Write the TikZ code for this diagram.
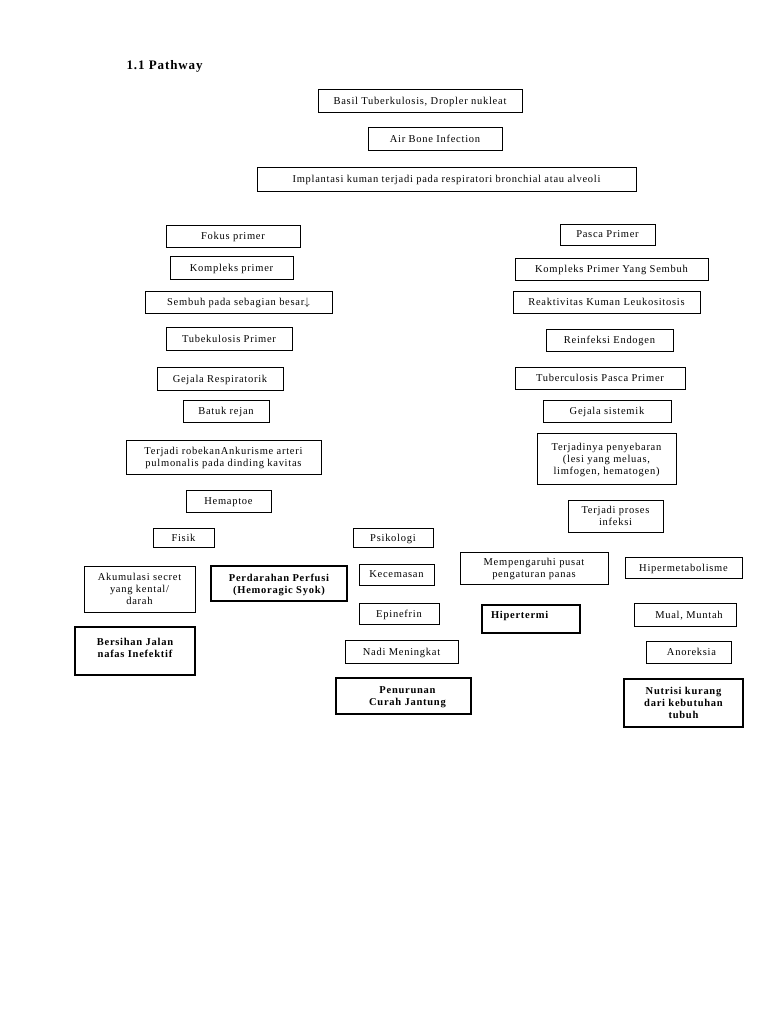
\documentclass[tikz,border=0pt]{standalone}
\usepackage{fontspec}
\setmainfont{Liberation Serif}[LetterSpace=7]
\tikzset{
  kotak/.style={draw, line width=0.8pt, inner sep=0pt, align=center, text depth=0pt,
    font=\fontsize{10.5}{12}\selectfont},
  kotaktebal/.style={kotak, line width=1.8pt, font=\fontsize{10.5}{12}\selectfont\bfseries}
}
\begin{document}
\begin{tikzpicture}[x=1pt, y=-1pt]
      \useasboundingbox (0,0) rectangle (768,1024);
      %
      \node[anchor=base west, font=\fontsize{13}{15}\selectfont\bfseries] (judul) at (123,70) {1.1 Pathway};
      %
      \node[kotak, minimum width=204, minimum height=23] (basil) at (420,100.5) {Basil Tuberkulosis, Dropler nukleat};
      \node[kotak, minimum width=134, minimum height=23] (airbone) at (435,138.5) {Air Bone Infection};
      \node[kotak, minimum width=379, minimum height=24] (implantasi) at (446.5,179) {Implantasi kuman terjadi pada respiratori bronchial atau alveoli};
      %
      \node[kotak, minimum width=134, minimum height=22] (fokus) at (233,236) {Fokus primer};
      \node[kotak, minimum width=123, minimum height=23] (kompleks) at (231.5,267.5) {Kompleks primer};
      \node[kotak, minimum width=187, minimum height=22] (sembuh) at (238.5,302) {Sembuh pada sebagian besar$\downarrow$};
      \node[kotak, minimum width=126, minimum height=23] (tbprimer) at (229,338.5) {Tubekulosis Primer};
      \node[kotak, minimum width=126, minimum height=23] (respiratorik) at (220,378.5) {Gejala Respiratorik};
      \node[kotak, minimum width=86, minimum height=22] (batuk) at (226,411) {Batuk rejan};
      \node[kotak, minimum width=195, minimum height=34] (robekan) at (223.5,457) {Terjadi robekanAnkurisme arteri\\pulmonalis pada dinding kavitas};
      \node[kotak, minimum width=85, minimum height=22] (hemaptoe) at (228.5,501) {Hemaptoe};
      \node[kotak, minimum width=61, minimum height=19] (fisik) at (183.5,537.5) {Fisik};
      \node[kotak, minimum width=80, minimum height=19] (psikologi) at (393,537.5) {Psikologi};
      \node[kotak, minimum width=111, minimum height=46] (akumulasi) at (139.5,589) {Akumulasi secret\\yang kental/\\darah};
      \node[kotaktebal, minimum width=136, minimum height=35] (perdarahan) at (279,583.5) {Perdarahan Perfusi\\(Hemoragic Syok)};
      \node[kotak, minimum width=75, minimum height=21] (kecemasan) at (396.5,574.5) {Kecemasan};
      \node[kotak, minimum width=80, minimum height=21] (epinefrin) at (399,613.5) {Epinefrin};
      \node[kotaktebal, minimum width=120, minimum height=48] (bersihan) at (135,651) {\parbox[c][44pt][t]{112pt}{\centering Bersihan Jalan\\nafas Inefektif}};
      \node[kotak, minimum width=113, minimum height=23] (nadi) at (401.5,651.5) {Nadi Meningkat};
      \node[kotaktebal, minimum width=135, minimum height=36] (curah) at (403.5,696) {\hspace*{8pt}Penurunan\\\hspace*{8pt}Curah Jantung};
      %
      \node[kotak, minimum width=95, minimum height=21] (pasca) at (607.5,234.5) {Pasca Primer};
      \node[kotak, minimum width=193, minimum height=22] (kompleksys) at (611.5,269) {Kompleks Primer Yang Sembuh};
      \node[kotak, minimum width=187, minimum height=22] (reaktivitas) at (606.5,302) {Reaktivitas Kuman Leukositosis};
      \node[kotak, minimum width=127, minimum height=22] (reinfeksi) at (609.5,340) {Reinfeksi Endogen};
      \node[kotak, minimum width=170, minimum height=22] (tbpasca) at (600,378) {Tuberculosis Pasca Primer};
      \node[kotak, minimum width=128, minimum height=22] (sistemik) at (607,411) {Gejala sistemik};
      \node[kotak, minimum width=139, minimum height=51] (penyebaran) at (606.5,458.5) {Terjadinya penyebaran\\(lesi yang meluas,\\limfogen, hematogen)};
      \node[kotak, minimum width=95, minimum height=32] (infeksi) at (615.5,516) {Terjadi proses\\infeksi};
      \node[kotak, minimum width=148, minimum height=32] (pusat) at (534,568) {Mempengaruhi pusat\\pengaturan panas};
      \node[kotak, minimum width=117, minimum height=21] (hipermetab) at (683.5,567.5) {Hipermetabolisme};
      \node[kotaktebal, minimum width=98, minimum height=28] (hipertermi) at (531,619) {\parbox[c][24pt][t]{80pt}{\raggedright Hipertermi}};
      \node[kotak, minimum width=102, minimum height=23] (mual) at (685,614.5) {\hspace*{8pt}Mual, Muntah};
      \node[kotak, minimum width=85, minimum height=22] (anoreksia) at (688.5,652) {\hspace*{6pt}Anoreksia};
      \node[kotaktebal, minimum width=119, minimum height=48] (nutrisi) at (683.5,703) {Nutrisi kurang\\dari kebutuhan\\tubuh};
      %
    \end{tikzpicture}
\end{document}
